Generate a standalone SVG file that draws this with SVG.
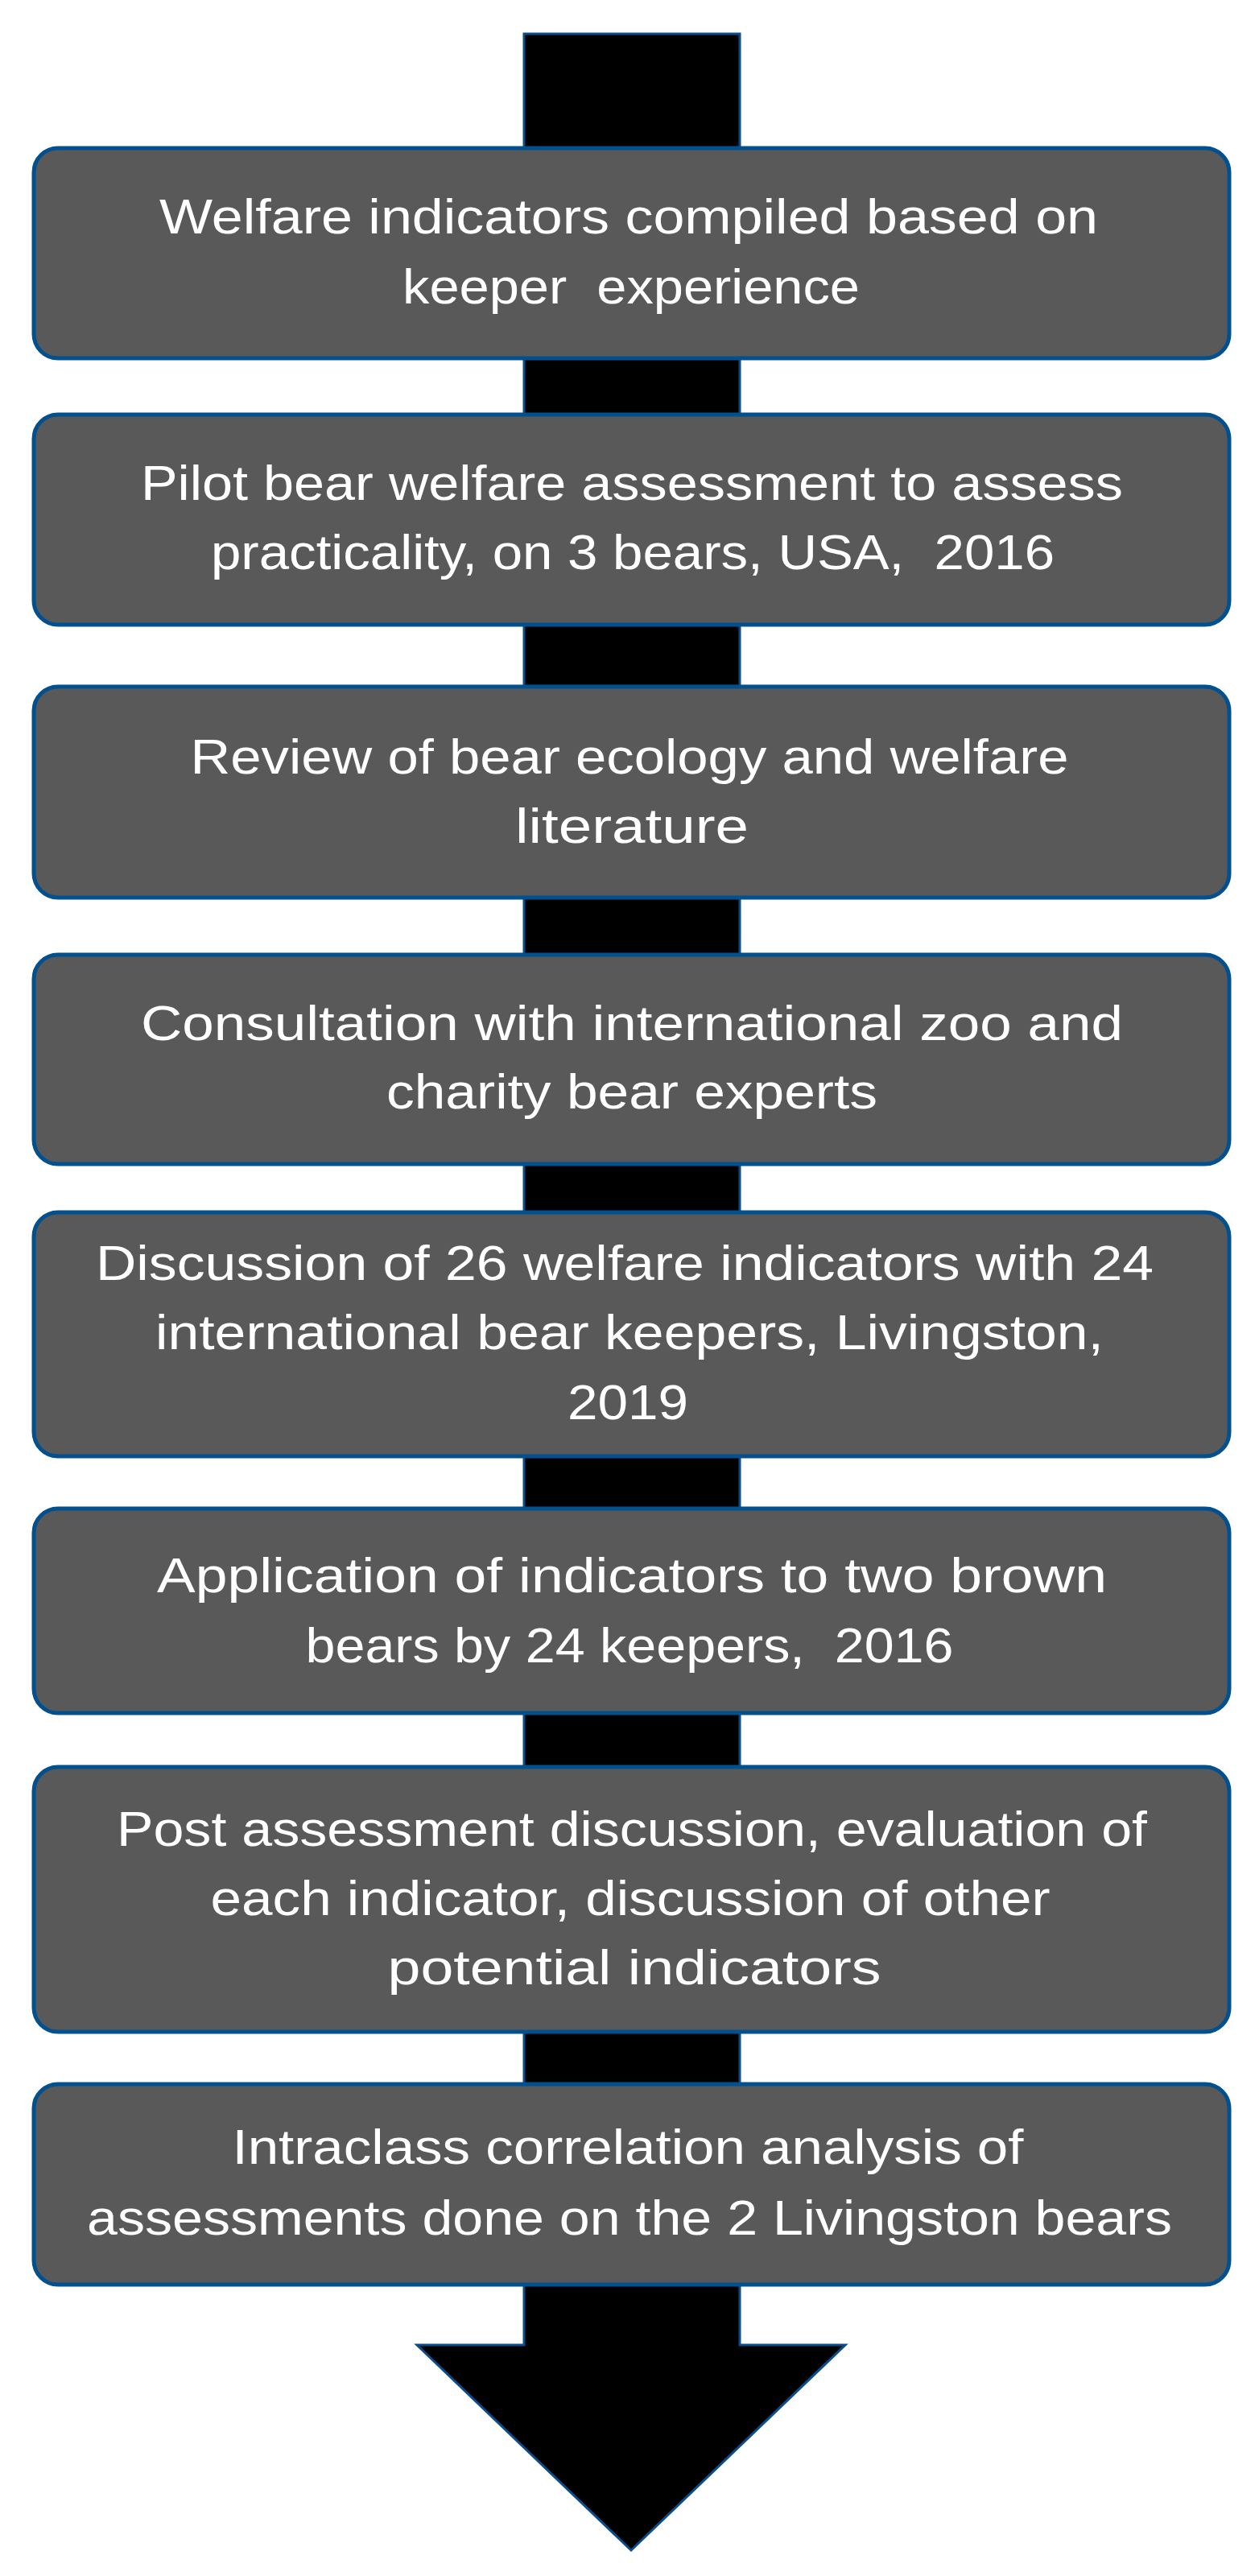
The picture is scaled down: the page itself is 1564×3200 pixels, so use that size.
<svg xmlns="http://www.w3.org/2000/svg" width="1564" height="3200" viewBox="0 0 1564 3200">
<style>
.box{fill:#595959;stroke:#03508F;stroke-width:5}
.t{fill:#FFFFFF;font-family:"Liberation Sans",Arial,sans-serif;font-size:61px;text-anchor:middle}
</style>
<rect width="1564" height="3200" fill="#FFFFFF"/>
<g id="connectors">
<polygon points="651,42 919,42 919,2913 1050,2913 784,3168 518,2913 651,2913" fill="#000000" stroke="#0B4D8A" stroke-width="3" stroke-linejoin="miter"/>
</g>
<g id="node1"><rect class="box" x="42" y="184" width="1485" height="261" rx="30"/>
<text class="t" x="781" y="290" textLength="1166" lengthAdjust="spacingAndGlyphs">Welfare indicators compiled based on</text>
<text class="t" x="784" y="377" textLength="568" lengthAdjust="spacingAndGlyphs" xml:space="preserve">keeper  experience</text></g>
<g id="node2"><rect class="box" x="42" y="515" width="1485" height="261" rx="30"/>
<text class="t" x="785" y="621" textLength="1220" lengthAdjust="spacingAndGlyphs">Pilot bear welfare assessment to assess</text>
<text class="t" x="786" y="707" textLength="1048" lengthAdjust="spacingAndGlyphs" xml:space="preserve">practicality, on 3 bears, USA,  2016</text></g>
<g id="node3"><rect class="box" x="42" y="853" width="1485" height="262" rx="30"/>
<text class="t" x="782" y="961" textLength="1091" lengthAdjust="spacingAndGlyphs">Review of bear ecology and welfare</text>
<text class="t" x="785" y="1047" textLength="290" lengthAdjust="spacingAndGlyphs">literature</text></g>
<g id="node4"><rect class="box" x="42" y="1186" width="1485" height="260" rx="30"/>
<text class="t" x="785" y="1292" textLength="1220" lengthAdjust="spacingAndGlyphs">Consultation with international zoo and</text>
<text class="t" x="785" y="1377" textLength="610" lengthAdjust="spacingAndGlyphs">charity bear experts</text></g>
<g id="node5"><rect class="box" x="42" y="1506" width="1485" height="303" rx="30"/>
<text class="t" x="776" y="1590" textLength="1314" lengthAdjust="spacingAndGlyphs">Discussion of 26 welfare indicators with 24</text>
<text class="t" x="782" y="1676" textLength="1178" lengthAdjust="spacingAndGlyphs">international bear keepers, Livingston,</text>
<text class="t" x="780" y="1763" textLength="150" lengthAdjust="spacingAndGlyphs">2019</text></g>
<g id="node6"><rect class="box" x="42" y="1874" width="1485" height="254" rx="30"/>
<text class="t" x="785" y="1978" textLength="1180" lengthAdjust="spacingAndGlyphs">Application of indicators to two brown</text>
<text class="t" x="782" y="2065" textLength="805" lengthAdjust="spacingAndGlyphs" xml:space="preserve">bears by 24 keepers,  2016</text></g>
<g id="node7"><rect class="box" x="42" y="2195" width="1485" height="329" rx="30"/>
<text class="t" x="785" y="2293" textLength="1280" lengthAdjust="spacingAndGlyphs">Post assessment discussion, evaluation of</text>
<text class="t" x="783" y="2379" textLength="1043" lengthAdjust="spacingAndGlyphs">each indicator, discussion of other</text>
<text class="t" x="788" y="2465" textLength="613" lengthAdjust="spacingAndGlyphs">potential indicators</text></g>
<g id="node8"><rect class="box" x="42" y="2589" width="1485" height="249" rx="30"/>
<text class="t" x="780" y="2688" textLength="983" lengthAdjust="spacingAndGlyphs">Intraclass correlation analysis of</text>
<text class="t" x="782" y="2776" textLength="1348" lengthAdjust="spacingAndGlyphs">assessments done on the 2 Livingston bears</text></g>
</svg>
